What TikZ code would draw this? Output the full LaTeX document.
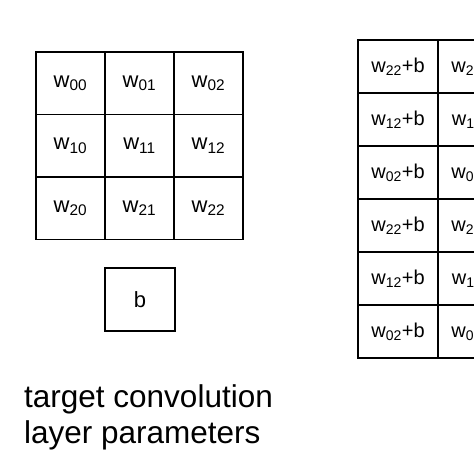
\documentclass[tikz,border=0pt]{standalone}
\usepackage{fontspec}
\setmainfont{Liberation Sans}
\newcommand{\wsub}[1]{w\textsubscript{#1}}
\begin{document}
\begin{tikzpicture}[x=1pt,y=-1pt,
  cell/.style={draw=black,line width=1.6pt,minimum width=69pt,minimum height=62.5pt,inner sep=0pt,font=\fontsize{22}{25}\selectfont},
  rcell/.style={draw=black,line width=1.6pt,minimum width=80pt,minimum height=53pt,inner sep=0pt,font=\fontsize{20}{24}\selectfont},
  caption/.style={anchor=base west,inner sep=0pt,font=\fontsize{31.5}{36}\selectfont}]
\useasboundingbox (0,0) rectangle (474,474);
\clip (0,0) rectangle (474,474);
% left 3x3 kernel
\foreach \r in {0,1,2}{
  \foreach \c in {0,1,2}{
    \node[cell] (k\r\c) at ({36+34.5+69*\c},{52+31.25+62.5*\r}) {\wsub{\r\c}};
  }
}
% bias box
\node[cell,minimum width=70pt,minimum height=63pt] (bias) at (140,299.5) {b};
% caption
\node[caption] (cap1) at (24,407) {target convolution};
\node[caption] (cap2) at (24,443) {layer parameters};
% right matrix
\foreach \i/\a/\bb in {0/22/21,1/12/11,2/02/01,3/22/21,4/12/11,5/02/01}{
  \node[rcell] (ra\i) at (398,{40+26.5+53*\i}) {\wsub{\a}+b};
  \node[rcell] (rb\i) at (478,{40+26.5+53*\i}) {\wsub{\bb}+b};
}
\end{tikzpicture}
\end{document}
